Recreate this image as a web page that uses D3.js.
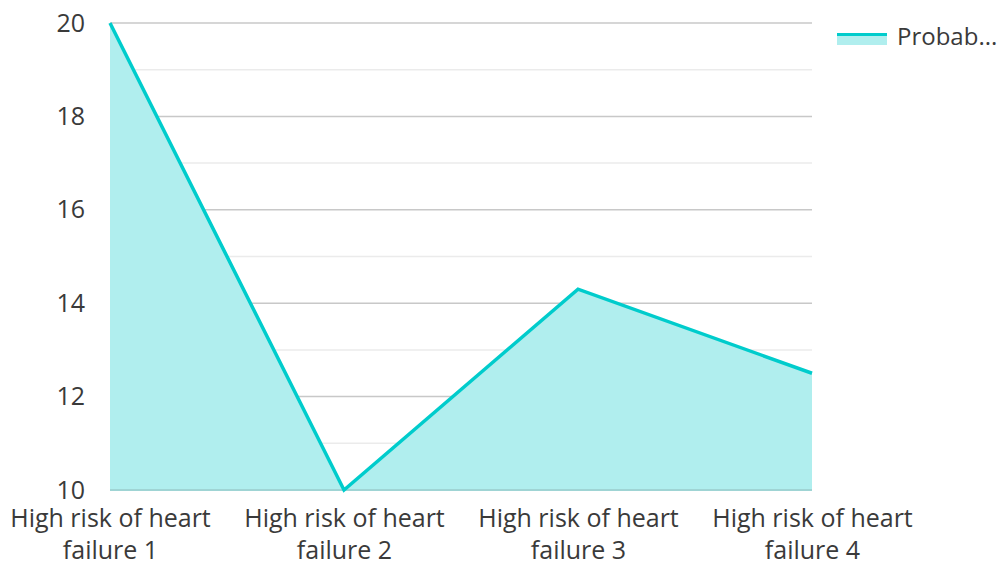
<!DOCTYPE html>
<html>
<head>
<meta charset="utf-8">
<script src="https://cdn.jsdelivr.net/npm/d3@7"></script>
<style>
  html, body { margin: 0; padding: 0; background: #fff; }
  svg { display: block; font-family: "Open Sans", "Noto Sans", sans-serif; }
</style>
</head>
<body>
<svg id="chart" width="1002" height="562"></svg>
<script>
// Chart data
const categories = [
  "High risk of heart failure 1",
  "High risk of heart failure 2",
  "High risk of heart failure 3",
  "High risk of heart failure 4"
];
const seriesName = "Probab...";
const values = [20, 10, 14.3, 12.5];
const yTicks = [10, 12, 14, 16, 18, 20];
const yMinorTicks = [11, 13, 15, 17, 19];

const svg = d3.select("#chart");
const margin = { left: 110, right: 190, top: 23, bottom: 72 };
const W = 1002, H = 562;
const fontSize = 25;
const textColor = "#3a3a3a";

const x = d3.scalePoint()
  .domain(categories)
  .range([margin.left, W - margin.right]);
const y = d3.scaleLinear()
  .domain([10, 20])
  .range([H - margin.bottom, margin.top]);

const lineColor = "#00cccc";
const fillColor = "#b0eeee";

// Gridlines
const grid = svg.append("g");
grid.selectAll("line.minor").data(yMinorTicks).join("line")
  .attr("class", "minor")
  .attr("x1", margin.left).attr("x2", W - margin.right)
  .attr("y1", d => y(d)).attr("y2", d => y(d))
  .attr("stroke", "#ebebeb").attr("stroke-width", 1.5);
grid.selectAll("line.major").data(yTicks).join("line")
  .attr("class", "major")
  .attr("x1", margin.left).attr("x2", W - margin.right)
  .attr("y1", d => y(d)).attr("y2", d => y(d))
  .attr("stroke", "#c8c8c8").attr("stroke-width", 1.5);

// Area and line
const area = d3.area()
  .x((d, i) => x(categories[i]))
  .y0(y(10))
  .y1(d => y(d));
const line = d3.line()
  .x((d, i) => x(categories[i]))
  .y(d => y(d));

svg.append("path").datum(values)
  .attr("d", area)
  .attr("fill", fillColor);

// Baseline drawn over the fill
svg.append("line")
  .attr("x1", margin.left).attr("x2", W - margin.right)
  .attr("y1", y(10)).attr("y2", y(10))
  .attr("stroke", "#9fd4d4").attr("stroke-width", 2);

svg.append("path").datum(values)
  .attr("d", line)
  .attr("fill", "none")
  .attr("stroke", lineColor)
  .attr("stroke-width", 3.5)
  .attr("stroke-linejoin", "miter");

// Y axis labels
const yAxis = d3.axisLeft(y).tickValues(yTicks).tickSize(0).tickPadding(0);
const yg = svg.append("g")
  .attr("transform", `translate(${margin.left - 25},0)`)
  .call(yAxis);
yg.select(".domain").remove();
yg.selectAll("text")
  .attr("font-size", fontSize)
  .attr("font-family", "'Open Sans', 'Noto Sans', sans-serif")
  .attr("fill", textColor);

// X axis labels, wrapped onto two lines
const xAxis = d3.axisBottom(x).tickSize(0).tickPadding(0).tickFormat("");
const xg = svg.append("g")
  .attr("transform", `translate(0,${y(10)})`)
  .call(xAxis);
xg.select(".domain").remove();
xg.selectAll(".tick").each(function(d) {
  const words = d.split(" ");
  const first = words.slice(0, 4).join(" ");
  const second = words.slice(4).join(" ");
  const t = d3.select(this).append("text")
    .attr("text-anchor", "middle")
    .attr("font-size", fontSize)
    .attr("font-family", "'Open Sans', 'Noto Sans', sans-serif")
    .attr("fill", textColor);
  t.append("tspan").attr("x", 0).attr("y", 37).text(first);
  t.append("tspan").attr("x", 0).attr("y", 69).text(second);
});

// Legend
const lg = svg.append("g").attr("transform", "translate(837,27)");
lg.append("rect").attr("x", 0).attr("y", 6).attr("width", 50).attr("height", 12)
  .attr("fill", fillColor);
lg.append("line").attr("x1", 0).attr("x2", 50).attr("y1", 7.5).attr("y2", 7.5)
  .attr("stroke", lineColor).attr("stroke-width", 3);
lg.append("text").attr("x", 60).attr("y", 17.5)
  .attr("font-size", 24)
  .attr("font-family", "'Open Sans', 'Noto Sans', sans-serif")
  .attr("fill", textColor)
  .text(seriesName);
</script>
</body>
</html>
